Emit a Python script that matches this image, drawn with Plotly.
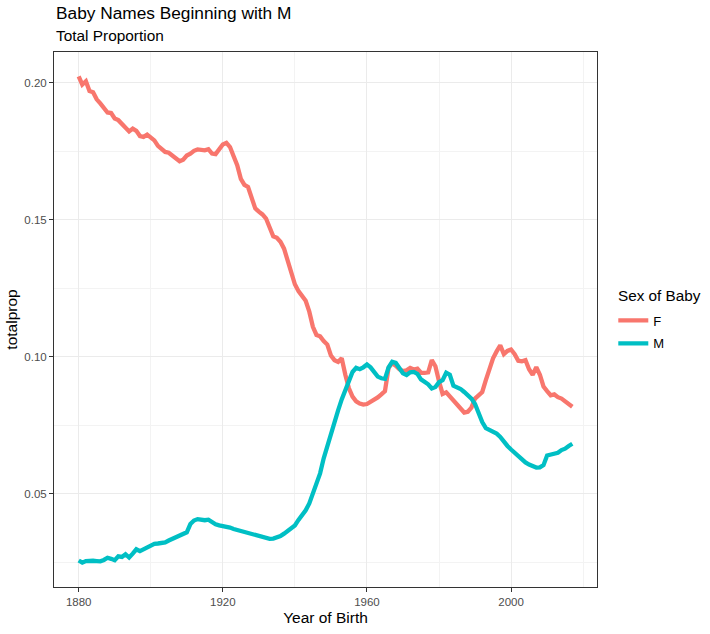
import plotly.graph_objects as go

years = list(range(1880, 2018))

prop_F = [
    0.2024, 0.1994, 0.2006, 0.1970, 0.1966, 0.1940, 0.1925, 0.1910, 0.1892, 0.1890,  # 1880s
    0.1870, 0.1864, 0.1850, 0.1832, 0.1823, 0.1833, 0.1825, 0.1806, 0.1803, 0.1811,  # 1890s
    0.1800, 0.1790, 0.1770, 0.1758, 0.1748, 0.1745, 0.1735, 0.1722, 0.1714, 0.1720,  # 1900s
    0.1735, 0.1742, 0.1752, 0.1757, 0.1756, 0.1754, 0.1758, 0.1742, 0.1740, 0.1755,  # 1910s
    0.1775, 0.1781, 0.1766, 0.1732, 0.1700, 0.1650, 0.1628, 0.1620, 0.1580, 0.1542,  # 1920s
    0.1530, 0.1520, 0.1505, 0.1468, 0.1440, 0.1435, 0.1420, 0.1395, 0.1350, 0.1300,  # 1930s
    0.1265, 0.1240, 0.1222, 0.1205, 0.1165, 0.1110, 0.1080, 0.1075, 0.1058, 0.1045,  # 1940s
    0.1005, 0.0988, 0.0982, 0.0995, 0.0935, 0.0885, 0.0855, 0.0838, 0.0830, 0.0826,  # 1950s
    0.0828, 0.0835, 0.0845, 0.0852, 0.0863, 0.0875, 0.0960, 0.0978, 0.0968, 0.0955,  # 1960s
    0.0948, 0.0951, 0.0960, 0.0954, 0.0957, 0.0942, 0.0942, 0.0944, 0.0988, 0.0966,  # 1970s
    0.0911, 0.0865, 0.0871, 0.0855, 0.0840, 0.0825, 0.0810, 0.0797, 0.0800, 0.0815,  # 1980s
    0.0848, 0.0862, 0.0872, 0.0915, 0.0962, 0.0995, 0.1020, 0.1042, 0.1010, 0.1022,  # 1990s
    0.1027, 0.1010, 0.0986, 0.0984, 0.0988, 0.0955, 0.0935, 0.0962, 0.0935, 0.0892,  # 2000s
    0.0875, 0.0860, 0.0863, 0.0853, 0.0848, 0.0838, 0.0830, 0.0818,                  # 2010s
]

prop_M = [
    0.0257, 0.0249, 0.0255, 0.0257, 0.0256, 0.0255, 0.0254, 0.0259, 0.0267, 0.0263,  # 1880s
    0.0258, 0.0272, 0.0270, 0.0280, 0.0268, 0.0282, 0.0298, 0.0291, 0.0297, 0.0303,  # 1890s
    0.0312, 0.0318, 0.0319, 0.0320, 0.0323, 0.0330, 0.0336, 0.0345, 0.0351, 0.0355,  # 1900s
    0.0360, 0.0390, 0.0403, 0.0408, 0.0405, 0.0404, 0.0406, 0.0395, 0.0389, 0.0385,  # 1910s
    0.0383, 0.0382, 0.0377, 0.0372, 0.0368, 0.0364, 0.0360, 0.0359, 0.0354, 0.0349,  # 1920s
    0.0345, 0.0341, 0.0338, 0.0336, 0.0337, 0.0340, 0.0346, 0.0355, 0.0365, 0.0376,  # 1930s
    0.0385, 0.0405, 0.0420, 0.0440, 0.0465, 0.0500, 0.0534, 0.0575, 0.0630, 0.0675,  # 1940s
    0.0725, 0.0768, 0.0805, 0.0845, 0.0880, 0.0915, 0.0945, 0.0960, 0.0955, 0.0962,  # 1950s
    0.0972, 0.0962, 0.0945, 0.0928, 0.0922, 0.0920, 0.0962, 0.0982, 0.0978, 0.0960,  # 1960s
    0.0940, 0.0934, 0.0944, 0.0945, 0.0938, 0.0918, 0.0911, 0.0900, 0.0885, 0.0890,  # 1970s
    0.0908, 0.0915, 0.0942, 0.0935, 0.0895, 0.0890, 0.0883, 0.0872, 0.0862, 0.0848,  # 1980s
    0.0828, 0.0790, 0.0762, 0.0740, 0.0733, 0.0728, 0.0720, 0.0708, 0.0690, 0.0675,  # 1990s
    0.0662, 0.0650, 0.0636, 0.0622, 0.0615, 0.0607, 0.0600, 0.0596, 0.0597, 0.0605,  # 2000s
    0.0640, 0.0643, 0.0646, 0.0650, 0.0660, 0.0665, 0.0675, 0.0683,                  # 2010s
]

series_names = ["F", "M"]
series_colors = {"F": "#F8766D", "M": "#00BFC4"}
x_ticks = [1880, 1920, 1960, 2000]
y_ticks = [0.05, 0.10, 0.15, 0.20]
y_tick_labels = ["0.05", "0.10", "0.15", "0.20"]

FONT = "Liberation Sans, Arial, sans-serif"

fig = go.Figure()
for name, vals in zip(series_names, [prop_F, prop_M]):
    fig.add_trace(go.Scatter(
        x=years, y=vals, mode="lines", name=name, legendgroup=name,
        line=dict(color=series_colors[name], width=4.3),
    ))

# ggplot-like 5% expansion
xmin, xmax = min(years), max(years)
allv = prop_F + prop_M
ymin, ymax = min(allv), max(allv)
xr = [xmin - 0.05 * (xmax - xmin), xmax + 0.05 * (xmax - xmin)]
yr = [ymin - 0.05 * (ymax - ymin), ymax + 0.05 * (ymax - ymin)]

axis_common = dict(
    showline=True, linecolor="#333333", linewidth=1, mirror=True,
    ticks="outside", ticklen=4, tickcolor="#333333", tickwidth=1,
    showgrid=True, gridcolor="#EBEBEB", gridwidth=1.1,
    zeroline=False, automargin=False,
    tickfont=dict(family=FONT, size=11.5, color="#4D4D4D"),
)

L, R, T, B = 54, 113, 52, 47
W, H = 710, 634
pw, ph = W - L - R, H - T - B

fig.update_layout(
    width=W, height=H,
    margin=dict(l=L, r=R, t=T, b=B),
    paper_bgcolor="white", plot_bgcolor="white",
    font=dict(family=FONT, color="black"),
    xaxis=dict(
        range=xr, tickvals=x_ticks, ticktext=[str(v) for v in x_ticks],
        title=dict(text="Year of Birth", font=dict(family=FONT, size=15.5, color="black"), standoff=5),
        minor=dict(dtick=20, tick0=1880, showgrid=True, gridcolor="#F3F3F3", gridwidth=0.6, ticks=""),
        **axis_common,
    ),
    yaxis=dict(
        range=yr, tickvals=y_ticks, ticktext=y_tick_labels,
        title=dict(text="totalprop", font=dict(family=FONT, size=15.5, color="black"), standoff=2),
        minor=dict(dtick=0.025, tick0=0, showgrid=True, gridcolor="#F3F3F3", gridwidth=0.6, ticks=""),
        **axis_common,
    ),
    legend=dict(
        font=dict(family=FONT, size=13, color="black"),
        x=1.03, xanchor="left", y=(H - B - 332) / ph, yanchor="middle",
        bgcolor="rgba(0,0,0,0)", traceorder="grouped", tracegroupgap=3,
    ),
    annotations=[
        dict(text="Baby Names Beginning with M", xref="paper", yref="paper",
             x=0, y=(H - B - 13) / ph, xanchor="left", yanchor="middle",
             showarrow=False, font=dict(family=FONT, size=17.3, color="black")),
        dict(text="Total Proportion", xref="paper", yref="paper",
             x=0, y=(H - B - 35) / ph, xanchor="left", yanchor="middle",
             showarrow=False, font=dict(family=FONT, size=15.4, color="black")),
        dict(text="Sex of Baby", xref="paper", yref="paper",
             x=(616 - L) / pw, y=(H - B - 295) / ph, xanchor="left", yanchor="middle",
             showarrow=False, font=dict(family=FONT, size=15.3, color="black")),
    ],
)

fig.write_html("out.html")
